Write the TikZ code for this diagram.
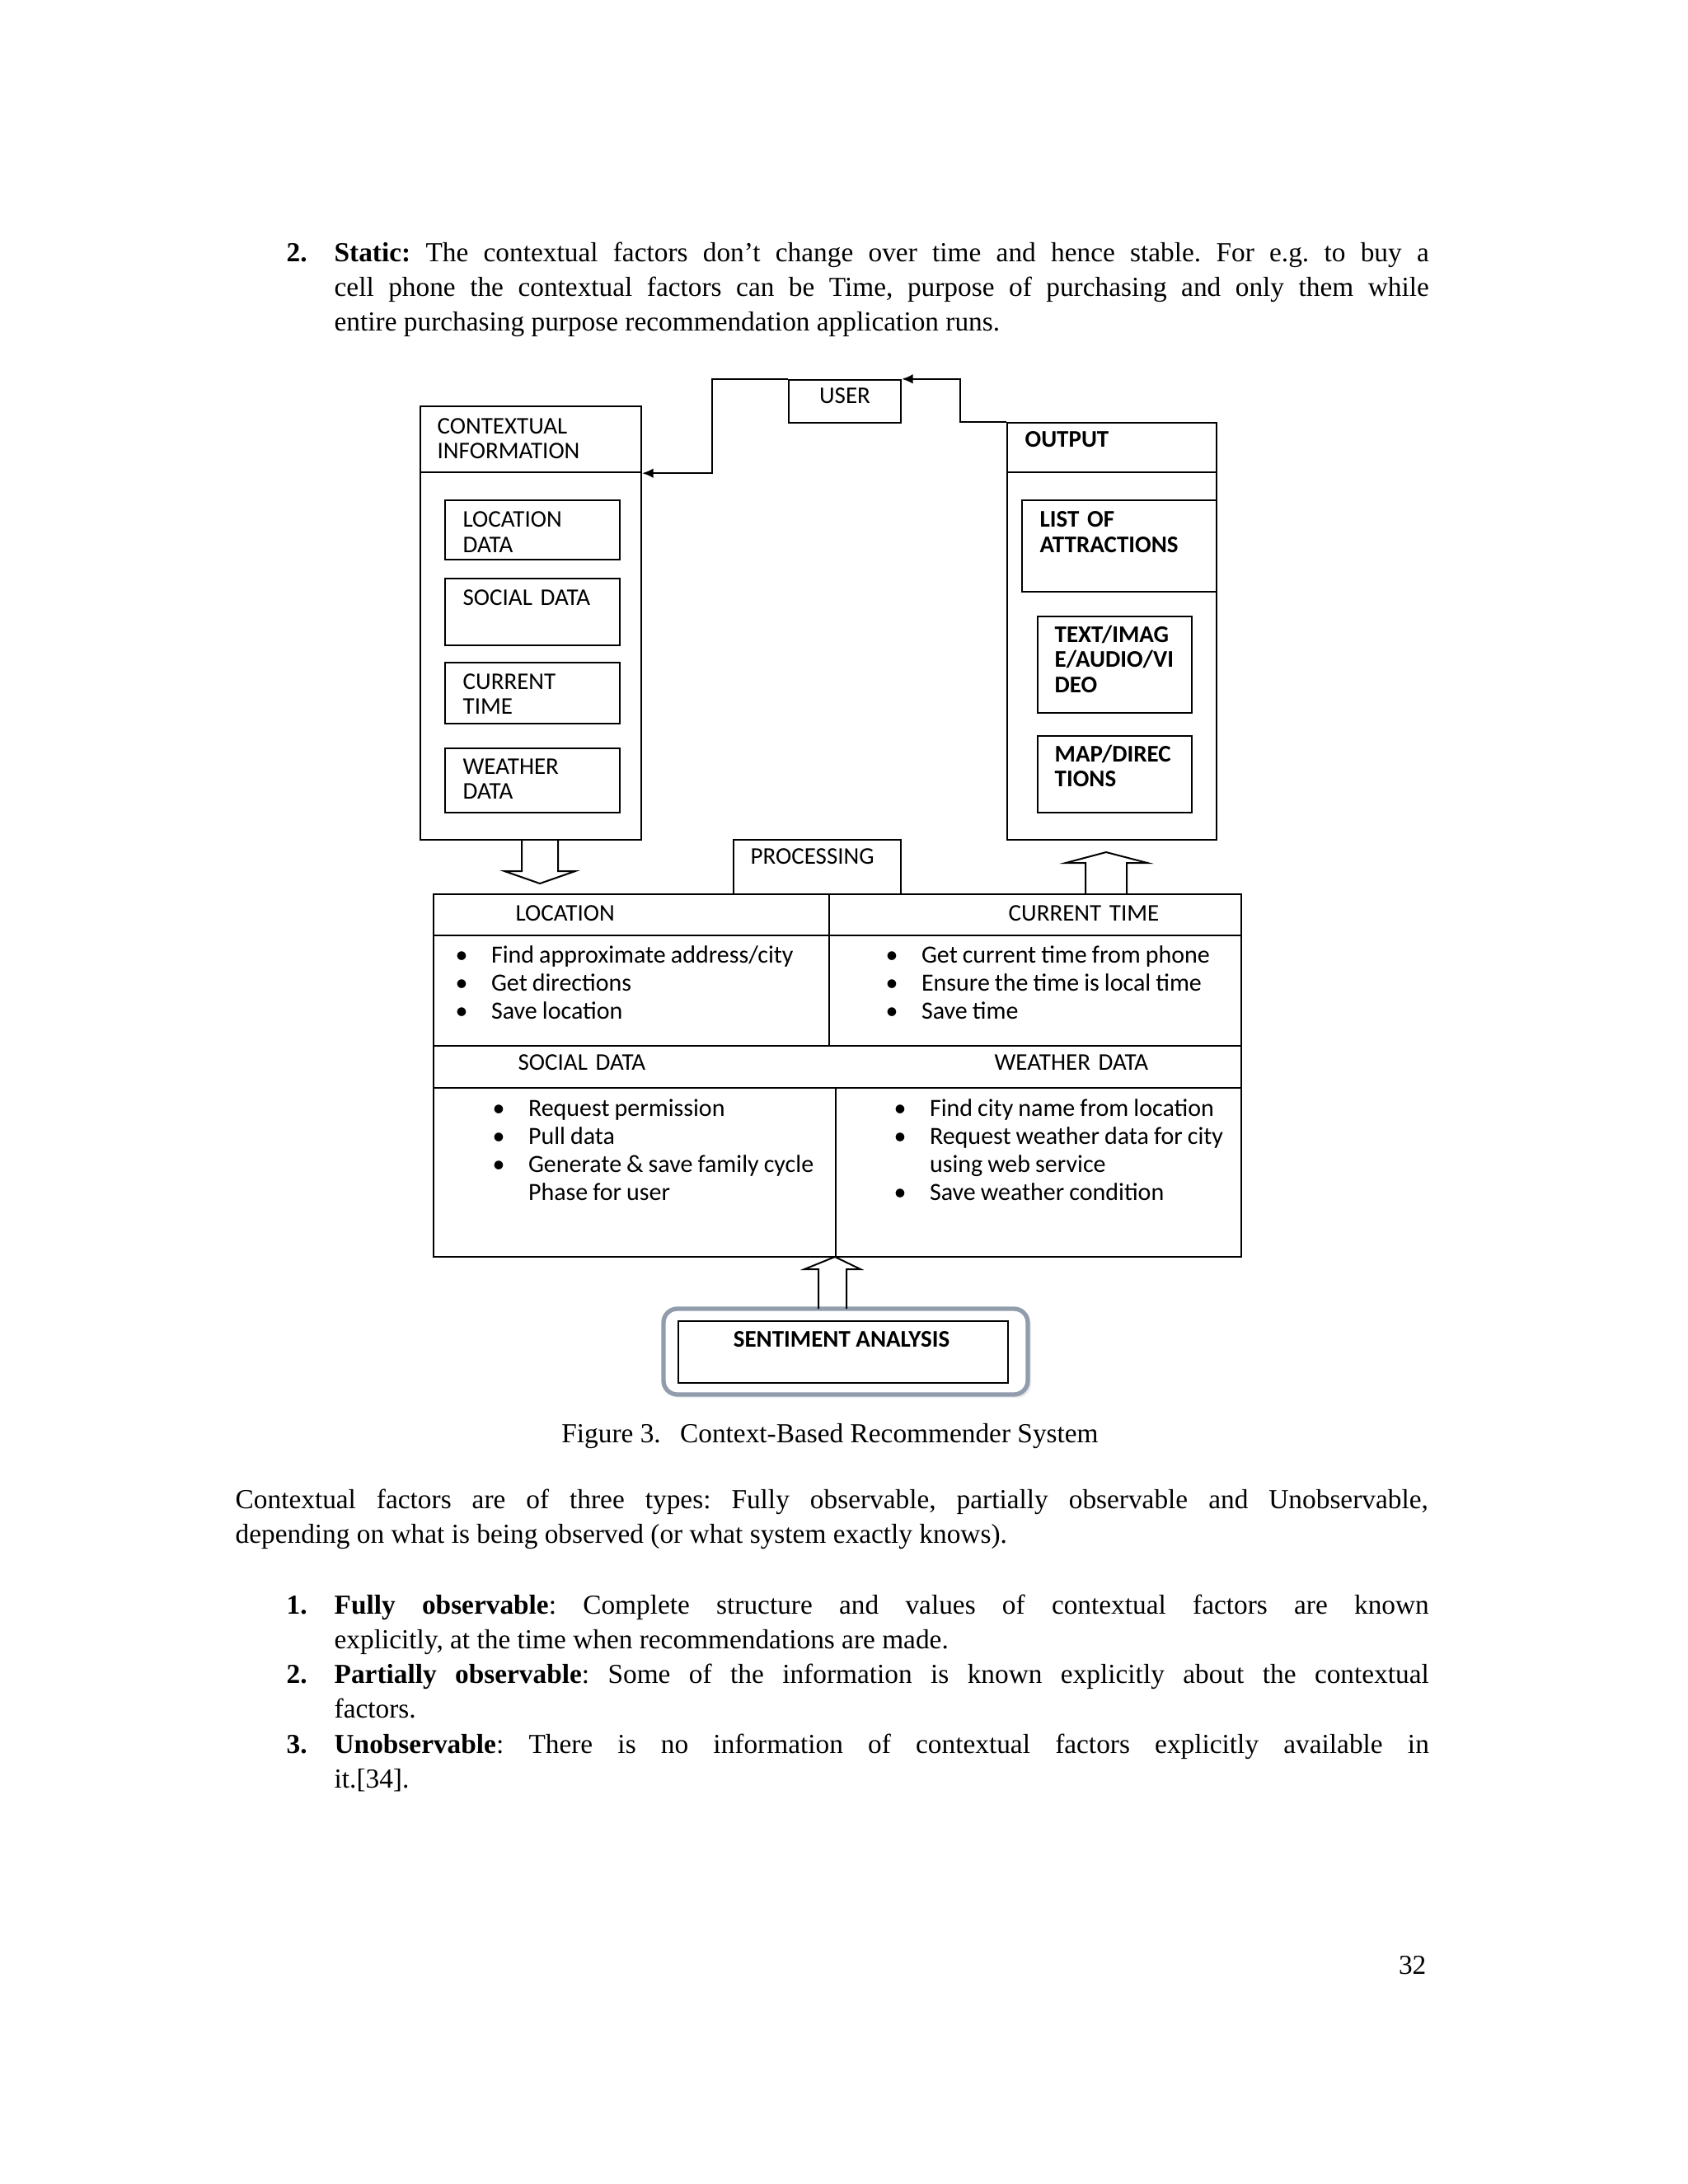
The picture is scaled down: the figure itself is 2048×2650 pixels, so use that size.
\documentclass[tikz,border=0pt]{standalone}
\usepackage{fontspec}
\setmainfont{Liberation Serif}
\newfontfamily\calibri{Carlito}
\usetikzlibrary{fit,arrows.meta,shadows}

\definecolor{sgray}{RGB}{145,156,172}
\newcommand\lblfont{\calibri\fontsize{8.7}{9.2}\selectfont}
\newcommand\bulfont{\calibri\fontsize{9}{10.2}\selectfont}
\newcommand\bodyfont{\fontsize{10}{12.6}\selectfont\frenchspacing}
\newcommand\tsp{\spaceskip=0.2em plus 0.05em\relax}
\newcommand\blt{\makebox[13pt][l]{\textbullet}}
\newcommand\nblt{\hspace*{13pt}}

\begin{document}
\begin{tikzpicture}[x=0.2999pt, y=-0.2999pt,
    box/.style={draw, line width=0.7pt, inner sep=0pt},
    lbl/.style={anchor=base west, inner sep=0pt, text width=3cm, align=left, font=\lblfont},
    blbl/.style={lbl, font=\lblfont\bfseries},
    blist/.style={anchor=base west, inner sep=0pt, text width=6cm, align=left, font=\bulfont},
    para/.style={anchor=base west, inner sep=0pt, align=justify, font=\bodyfont},
    conn/.style={line width=0.7pt, -{Latex[length=4pt,width=3.5pt]}},
    blockarr/.style={draw, line width=0.6pt, line join=miter},
    sentouter/.style={draw=sgray, line width=1.6pt, rounded corners=5pt, fill=white, inner sep=0pt,
      drop shadow={opacity=0.15, shadow xshift=1.2pt, shadow yshift=-1.2pt}}]
\useasboundingbox (0,0) rectangle (2048,2650);

% text above the figure
\node[para, font=\bodyfont\bfseries] (num2a) at (347,317) {2.};
\node[para, text width=398.3pt] (static) at (405,317) {\textbf{Static:} The contextual factors don’t change over time and hence stable. For e.g. to buy a\linebreak cell phone the contextual factors can be Time, purpose of purchasing and only them while\linebreak entire purchasing purpose recommendation application runs.};

% contextual information
\node[box, fit={(510,493) (778,573)}] (ctxhead) {};
\node[box, fit={(510,573) (778,1019)}] (ctxbody) {};
\node[lbl] (ctxtxt) at (530,526) {CONTEXTUAL\\INFORMATION};
\node[box, fit={(540,607) (752,679)}] (locdata) {};
\node[lbl] (loctxt) at (561,639.5) {LOCATION\\DATA};
\node[box, fit={(540,702) (752,783)}] (socdata) {};
\node[lbl] (soctxt) at (561,734.3) {SOCIAL DATA};
\node[box, fit={(540,804) (752,878)}] (curtime) {};
\node[lbl] (curtxt) at (561,836) {CURRENT\\TIME};
\node[box, fit={(540,908) (752,986)}] (wthdata) {};
\node[lbl] (wthtxt) at (561,939) {WEATHER\\DATA};

% user
\node[box, fit={(957,461) (1093,513)}] (user) {};
\node[font=\lblfont, inner sep=0pt, anchor=base] (usertxt) at (1025,489.5) {USER};

% output
\node[box, fit={(1222,513) (1476,573)}] (outhead) {};
\node[box, fit={(1222,573) (1476,1019)}] (outbody) {};
\node[blbl] (outtxt) at (1243,542) {OUTPUT};
\node[box, fit={(1240,607) (1476,718)}] (attract) {};
\node[blbl] (attrtxt) at (1261,639.5) {LIST OF\\ATTRACTIONS};
\node[box, fit={(1259,748) (1446,865)}] (media) {};
\node[blbl] (mediatxt) at (1279,779.3) {TEXT/IMAG\\E/AUDIO/VI\\DEO};
\node[box, fit={(1259,893) (1446,986)}] (mapdir) {};
\node[blbl] (maptxt) at (1279,924) {MAP/DIREC\\TIONS};

\draw[conn] (user.north west) -- ++(-92,0) |- (ctxhead.south east);
\draw[conn] (outhead.north west) -- ++(-56,0) |- (user.north east);

% processing
\node[box, fit={(890,1019) (1093,1085)}] (proc) {};
\node[lbl] (proctxt) at (910,1048) {PROCESSING};
\node[box, fit={(526,1085) (1006,1135)}] (lochead) {};
\node[box, fit={(526,1135) (1006,1269)}] (locbody) {};
\node[box, fit={(1006,1085) (1506,1135)}] (timehead) {};
\node[box, fit={(1006,1135) (1506,1269)}] (timebody) {};
\node[box, fit={(526,1269) (1506,1320)}] (datahead) {};
\node[box, fit={(526,1320) (1014,1525)}] (socbody) {};
\node[box, fit={(1014,1320) (1506,1525)}] (wthbody) {};
\node[lbl] (lochtxt) at (625,1117) {LOCATION};
\node[lbl] (timehtxt) at (1223,1117) {CURRENT TIME};
\node[lbl] (sochtxt) at (628,1298) {SOCIAL DATA};
\node[lbl] (wthhtxt) at (1206,1298) {WEATHER DATA};
\node[blist] (loclist) at (552,1168) {\tsp\blt Find approximate address/city\\\blt Get directions\\\blt Save location};
\node[blist] (timelist) at (1074,1168) {\tsp\blt Get current time from phone\\\blt Ensure the time is local time\\\blt Save time};
\node[blist] (soclist) at (597,1354) {\tsp\blt Request permission\\\blt Pull data\\\blt Generate \& save family cycle\\\nblt Phase for user};
\node[blist] (wthlist) at (1084,1354) {\tsp\blt Find city name from location\\\blt Request weather data for city\\\nblt using web service\\\blt Save weather condition};

% block arrows
\draw[blockarr] (633,1019) -- (633,1057) -- (612,1057) -- (655,1072) -- (698,1057) -- (677,1057) -- (677,1019);
\draw[blockarr] (1317,1085) -- (1317,1047) -- (1293,1047) -- (1342,1034) -- (1392,1047) -- (1367,1047) -- (1367,1085);

% sentiment analysis
\node[sentouter, fit={(805,1588) (1247,1692)}] (sentbox) {};
\node[box, fit={(823,1603) (1223,1678)}] (sentin) {};
\node[font=\lblfont\bfseries, inner sep=0pt, anchor=base] (senttxt) at (1021,1634) {SENTIMENT ANALYSIS};
\draw[blockarr] (993,1588) -- (993,1540) -- (976,1540) -- (1013,1525) -- (1044,1540) -- (1027,1540) -- (1027,1588);

\node[para, anchor=base] (caption) at (1007,1750) {Figure 3.\hspace{7pt}Context-Based Recommender System};

% text below the figure
\node[para, text width=434pt] (types) at (285,1830) {Contextual factors are of three types: Fully observable, partially observable and Unobservable,\linebreak depending on what is being observed (or what system exactly knows).};
\node[para, font=\bodyfont\bfseries] (num1) at (347,1958) {1.};
\node[para, text width=398.3pt] (fully) at (405,1958) {\textbf{Fully observable}: Complete structure and values of contextual factors are known\linebreak explicitly, at the time when recommendations are made.};
\node[para, font=\bodyfont\bfseries] (num2b) at (347,2042) {2.};
\node[para, text width=398.3pt] (partly) at (405,2042) {\textbf{Partially observable}: Some of the information is known explicitly about the contextual\linebreak factors.};
\node[para, font=\bodyfont\bfseries] (num3) at (347,2127) {3.};
\node[para, text width=398.3pt] (unobs) at (405,2127) {\textbf{Unobservable}: There is no information of contextual factors explicitly available in\linebreak it.[34].};
\node[para, anchor=base east] (pagenum) at (1731,2395) {32};
\end{tikzpicture}
\end{document}
